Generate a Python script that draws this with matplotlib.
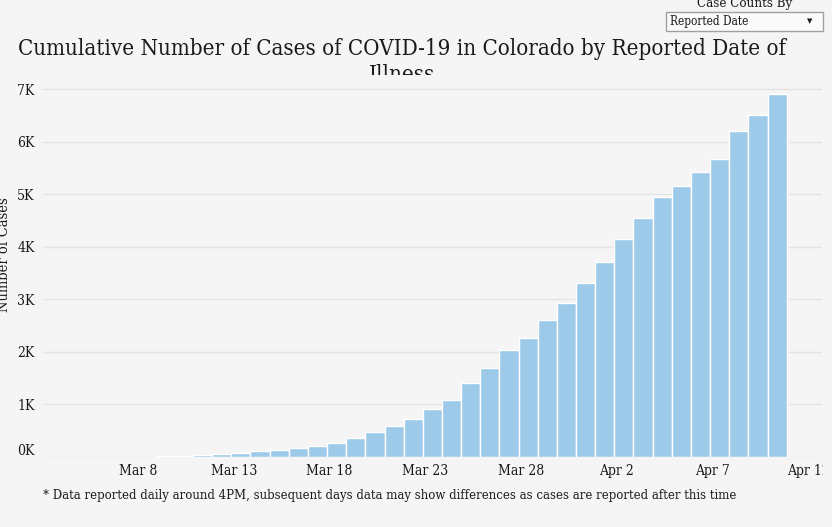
import matplotlib
matplotlib.use("Agg")
import matplotlib.pyplot as plt
import matplotlib.dates as mdates
import numpy as np
import pandas as pd
from matplotlib.patches import Rectangle
from matplotlib.transforms import Bbox, ScaledTranslation

# ---- data ----
dates = pd.date_range("2020-03-09", "2020-04-10", freq="D")
cases = [8, 15, 25, 48, 67, 105, 124, 162, 200, 259, 352, 467, 577, 714, 905,
         1072, 1402, 1686, 2029, 2257, 2600, 2924, 3305, 3705, 4154, 4543,
         4943, 5152, 5419, 5667, 6200, 6505, 6905]
tick_dates = pd.date_range("2020-03-08", "2020-04-12", freq="5D")
tick_labels = [f"{d.strftime('%b')} {d.day}" for d in tick_dates]
ytick_vals = [0, 1000, 2000, 3000, 4000, 5000, 6000, 7000]
ytick_labels = [f"{v//1000}K" for v in ytick_vals]

title = "Cumulative Number of Cases of COVID-19 in Colorado by Reported Date of\nIllness"
footnote = "* Data reported daily around 4PM, subsequent days data may show differences as cases are reported after this time"

# ---- style ----
BG = "#f5f5f5"
BAR = "#9ecae9"
GRID = "#e4e4e4"
TXT = "#1a1a1a"
W, H = 832, 527
SERIF = ["DejaVu Serif", "Liberation Serif"]
COND = "condensed"

fig = plt.figure(figsize=(W / 100, H / 100), dpi=100, facecolor=BG)
ax = fig.add_axes([43 / W, 1 - 456.8 / H, (822 - 43) / W, (456.8 - 75) / H])
ax.set_facecolor(BG)

offset = pd.Timedelta(hours=9)
x = mdates.date2num(dates + offset)
ax.bar(x, cases, width=1.0, color=BAR, edgecolor="white", linewidth=1.0, zorder=2)

x0 = mdates.date2num(pd.Timestamp("2020-03-08"))
ax.set_xlim(x0 - 4.96, x0 + 35.72)
ax.set_ylim(0, 7268)

ax.set_yticks(ytick_vals)
ax.set_yticklabels(ytick_labels)
ax.set_xticks(mdates.date2num(tick_dates))
ax.set_xticklabels(tick_labels)
ax.grid(axis="y", color=GRID, linewidth=1.0, zorder=0)
for s in ax.spines.values():
    s.set_visible(False)
ax.tick_params(axis="both", length=0, labelsize=10, labelcolor=TXT)
ax.tick_params(axis="x", pad=5)
ax.tick_params(axis="y", pad=6)
for lab in ax.get_xticklabels() + ax.get_yticklabels():
    lab.set_family(SERIF)
    lab.set_fontstretch(COND)

# the zero label sits a little above its gridline in the reference
ylabs = ax.get_yticklabels()
ylabs[0].set_transform(ylabs[0].get_transform() + ScaledTranslation(0, 7 / 100, fig.dpi_scale_trans))

# clip the last x tick label at the plot's right edge
clip = Bbox.from_extents(0, 0, 823, H)
for lab in ax.get_xticklabels():
    lab.set_clip_box(clip)
    lab.set_clip_on(True)

ax.set_ylabel("Number of Cases", family=SERIF, fontstretch=COND, fontsize=10.5, color=TXT)
ax.yaxis.set_label_coords(-32 / (822 - 43), (456.8 - 255) / (456.8 - 75))

# title (bottom of second line hidden behind the plot area)
fig.text(402 / W, 1 - 38 / H, title, ha="center", va="top", family=SERIF,
         fontstretch=COND, fontsize=16, color=TXT, linespacing=1.25, zorder=-1)

fig.text(43 / W, 1 - 495 / H, footnote, ha="left", va="center", family=SERIF,
         fontstretch=COND, fontsize=9.35, color=TXT)

# dropdown
fig.text(745 / W, 1 - 3 / H, "Case Counts By", ha="center", va="center", family=SERIF,
         fontstretch=COND, fontsize=9.5, color=TXT)
box = Rectangle((666 / W, 1 - 31 / H), (823 - 666) / W, (31 - 12) / H,
                transform=fig.transFigure, facecolor="#fafafa", edgecolor="#a0a0a0",
                linewidth=1.0)
fig.patches.append(box)
fig.text(670 / W, 1 - 21.5 / H, "Reported Date", ha="left", va="center", family=SERIF,
         fontstretch=COND, fontsize=8.5, color=TXT)
fig.text(810 / W, 1 - 21 / H, "\u25BC", ha="center", va="center", family="DejaVu Sans",
         fontsize=5, color=TXT)

fig.savefig("out.png", dpi=100, facecolor=BG)
